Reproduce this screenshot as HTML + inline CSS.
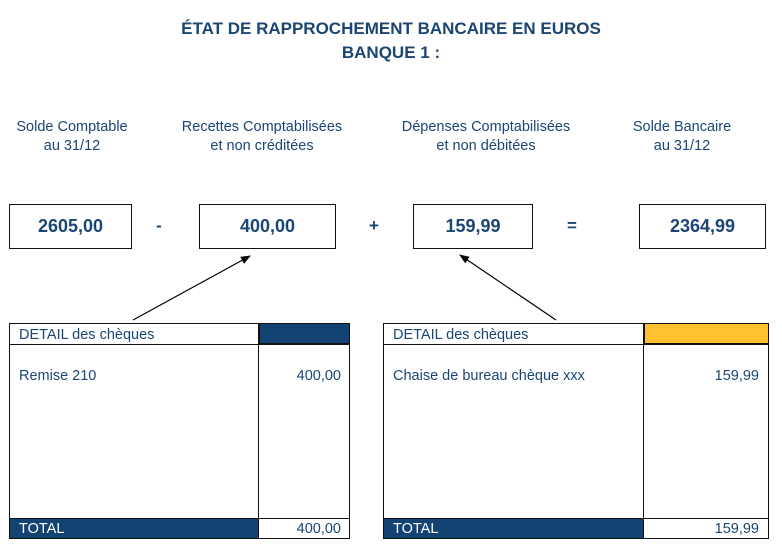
<!DOCTYPE html><html><head><style>
body{margin:0;width:782px;height:552px;background:#fff;font-family:"Liberation Sans",sans-serif;color:#1a4574;position:relative;overflow:hidden}
.a{position:absolute}
.t{font-weight:bold;font-size:17px;text-align:center;width:782px;left:0}
.l{font-size:14.5px;text-align:center;line-height:19px}
.b{border:1.5px solid #111;box-sizing:border-box;font-weight:bold;font-size:18px;display:flex;align-items:center;justify-content:center}
.op{font-weight:bold;font-size:17px}
.c{border:1px solid #111;box-sizing:border-box;font-size:14.5px}
</style></head><body>
<div class="a t" style="top:19px">ÉTAT DE RAPPROCHEMENT BANCAIRE EN EUROS</div>
<div class="a t" style="top:43px">BANQUE 1 :</div>
<div class="a l" style="left:2px;width:140px;top:118px">Solde Comptable<br>au 31/12</div>
<div class="a l" style="left:162px;width:200px;top:118px">Recettes Comptabilisées<br>et non créditées</div>
<div class="a l" style="left:386px;width:200px;top:118px">Dépenses Comptabilisées<br>et non débitées</div>
<div class="a l" style="left:612px;width:140px;top:118px">Solde Bancaire<br>au 31/12</div>
<div class="a b" style="left:9px;top:204px;width:123px;height:45px">2605,00</div>
<div class="a b" style="left:199px;top:204px;width:137px;height:45px">400,00</div>
<div class="a b" style="left:413px;top:204px;width:120px;height:45px">159,99</div>
<div class="a b" style="left:639px;top:204px;width:127px;height:45px">2364,99</div>
<div class="a op" style="left:156px;top:216px">-</div>
<div class="a op" style="left:369px;top:216px">+</div>
<div class="a op" style="left:567px;top:216px">=</div>
<svg class="a" style="left:0;top:0" width="782" height="552">
<defs><marker id="m" markerWidth="10" markerHeight="8" refX="9" refY="4" orient="auto" markerUnits="userSpaceOnUse"><path d="M0,0L10,4L0,8z" fill="#000"/></marker></defs>
<line x1="133" y1="320" x2="250" y2="256" stroke="#000" stroke-width="1.2" marker-end="url(#m)"/>
<line x1="556" y1="320" x2="460" y2="255" stroke="#000" stroke-width="1.2" marker-end="url(#m)"/>
</svg>
<div class="a c" style="left:9px;top:323px;width:341px;height:216px"></div>
<div class="a" style="left:258px;top:323px;width:1px;height:216px;background:#111"></div>
<div class="a" style="left:9px;top:344px;width:341px;height:1px;background:#111"></div>
<div class="a" style="left:259px;top:323px;width:91px;height:21px;background:#134372;border:1px solid #111;box-sizing:border-box"></div>
<div class="a" style="left:9px;top:518px;width:250px;height:21px;background:#134372;border:1px solid #111;box-sizing:border-box"></div>
<div class="a" style="left:258px;top:518px;width:92px;height:1px;background:#111"></div>
<div class="a" style="left:19px;top:327px;font-size:14.5px">DETAIL des chèques</div>
<div class="a" style="left:19px;top:368px;font-size:14.5px">Remise 210</div>
<div class="a" style="left:260px;width:81px;text-align:right;top:368px;font-size:14.5px">400,00</div>
<div class="a" style="left:19px;top:521px;font-size:14.5px;color:#fff">TOTAL</div>
<div class="a" style="left:260px;width:81px;text-align:right;top:521px;font-size:14.5px">400,00</div>
<div class="a c" style="left:383px;top:323px;width:386px;height:216px"></div>
<div class="a" style="left:643px;top:323px;width:1px;height:216px;background:#111"></div>
<div class="a" style="left:383px;top:344px;width:386px;height:1px;background:#111"></div>
<div class="a" style="left:644px;top:323px;width:125px;height:21px;background:#ffc12f;border:1px solid #111;box-sizing:border-box"></div>
<div class="a" style="left:383px;top:518px;width:261px;height:21px;background:#134372;border:1px solid #111;box-sizing:border-box"></div>
<div class="a" style="left:643px;top:518px;width:126px;height:1px;background:#111"></div>
<div class="a" style="left:393px;top:327px;font-size:14.5px">DETAIL des chèques</div>
<div class="a" style="left:393px;top:368px;font-size:14.5px">Chaise de bureau chèque xxx</div>
<div class="a" style="left:645px;width:114px;text-align:right;top:368px;font-size:14.5px">159,99</div>
<div class="a" style="left:393px;top:521px;font-size:14.5px;color:#fff">TOTAL</div>
<div class="a" style="left:645px;width:114px;text-align:right;top:521px;font-size:14.5px">159,99</div>
</body></html>
